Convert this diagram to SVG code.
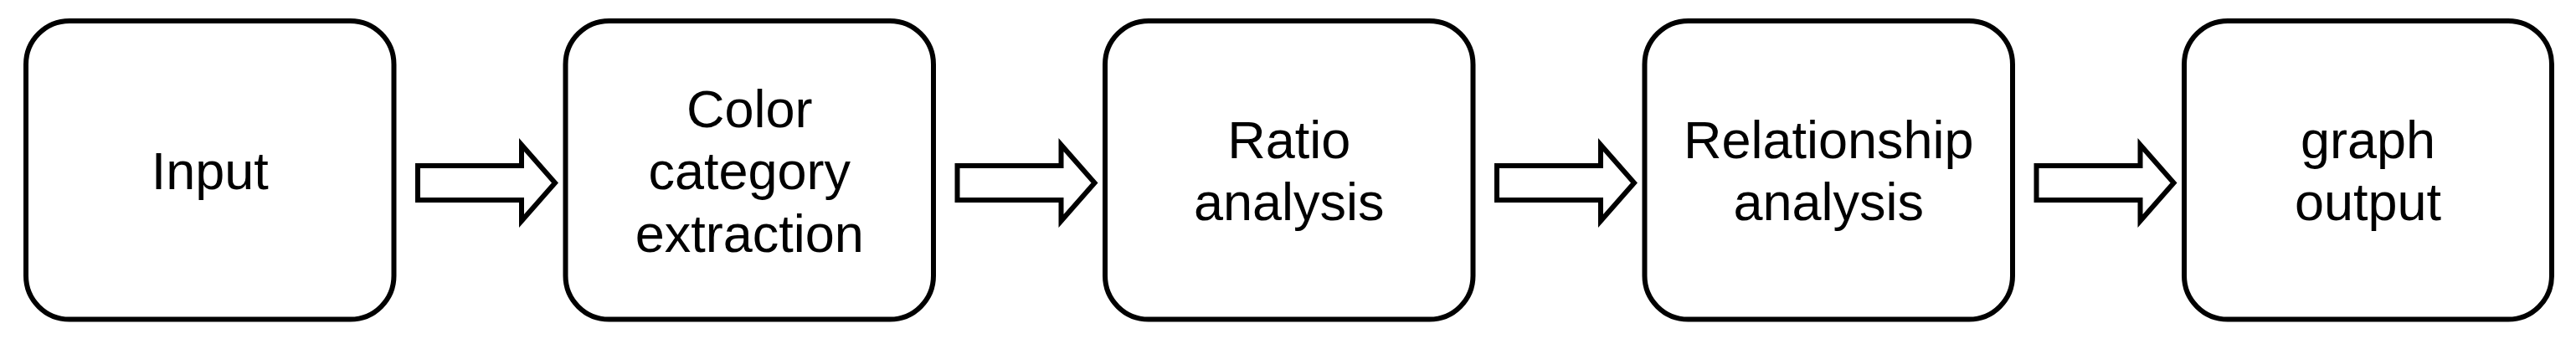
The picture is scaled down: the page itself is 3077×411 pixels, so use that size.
<svg xmlns="http://www.w3.org/2000/svg" width="3077" height="411" viewBox="0 0 3077 411">
<style>
.box{fill:#fff;stroke:#000;stroke-width:6}
.arr{fill:#fff;stroke:#000;stroke-width:6;stroke-linejoin:miter;stroke-miterlimit:10}
.lbl{font-family:"Liberation Sans",Arial,sans-serif;font-size:63px;fill:#000;text-anchor:middle}
</style>
<rect width="3077" height="411" fill="#fff"/>
<g id="connectors">
<polygon class="arr" points="499,198 623,198 623,173 663,218.5 623,264 623,239 499,239"/>
<polygon class="arr" points="1143.5,198 1267.5,198 1267.5,173 1307.5,218.5 1267.5,264 1267.5,239 1143.5,239"/>
<polygon class="arr" points="1788,198 1912,198 1912,173 1952,218.5 1912,264 1912,239 1788,239"/>
<polygon class="arr" points="2432.5,198 2556.5,198 2556.5,173 2596.5,218.5 2556.5,264 2556.5,239 2432.5,239"/>
</g>
<g id="input">
<rect class="box" x="31" y="25" width="439.5" height="356.5" rx="52" ry="52"/>
<text class="lbl" x="250.75" y="226">Input</text>
</g>
<g id="color-category-extraction">
<rect class="box" x="675.5" y="25" width="439.5" height="356.5" rx="52" ry="52"/>
<text class="lbl" x="895.25" y="151.5">Color</text>
<text class="lbl" x="895.25" y="226">category</text>
<text class="lbl" x="895.25" y="300.5">extraction</text>
</g>
<g id="ratio-analysis">
<rect class="box" x="1320" y="25" width="439.5" height="356.5" rx="52" ry="52"/>
<text class="lbl" x="1539.75" y="188.5">Ratio</text>
<text class="lbl" x="1539.75" y="262.5">analysis</text>
</g>
<g id="relationship-analysis">
<rect class="box" x="1964.5" y="25" width="439.5" height="356.5" rx="52" ry="52"/>
<text class="lbl" x="2184.25" y="188.5">Relationship</text>
<text class="lbl" x="2184.25" y="262.5">analysis</text>
</g>
<g id="graph-output">
<rect class="box" x="2609" y="25" width="439" height="356.5" rx="52" ry="52"/>
<text class="lbl" x="2828.5" y="188.5">graph</text>
<text class="lbl" x="2828.5" y="262.5">output</text>
</g>
</svg>
